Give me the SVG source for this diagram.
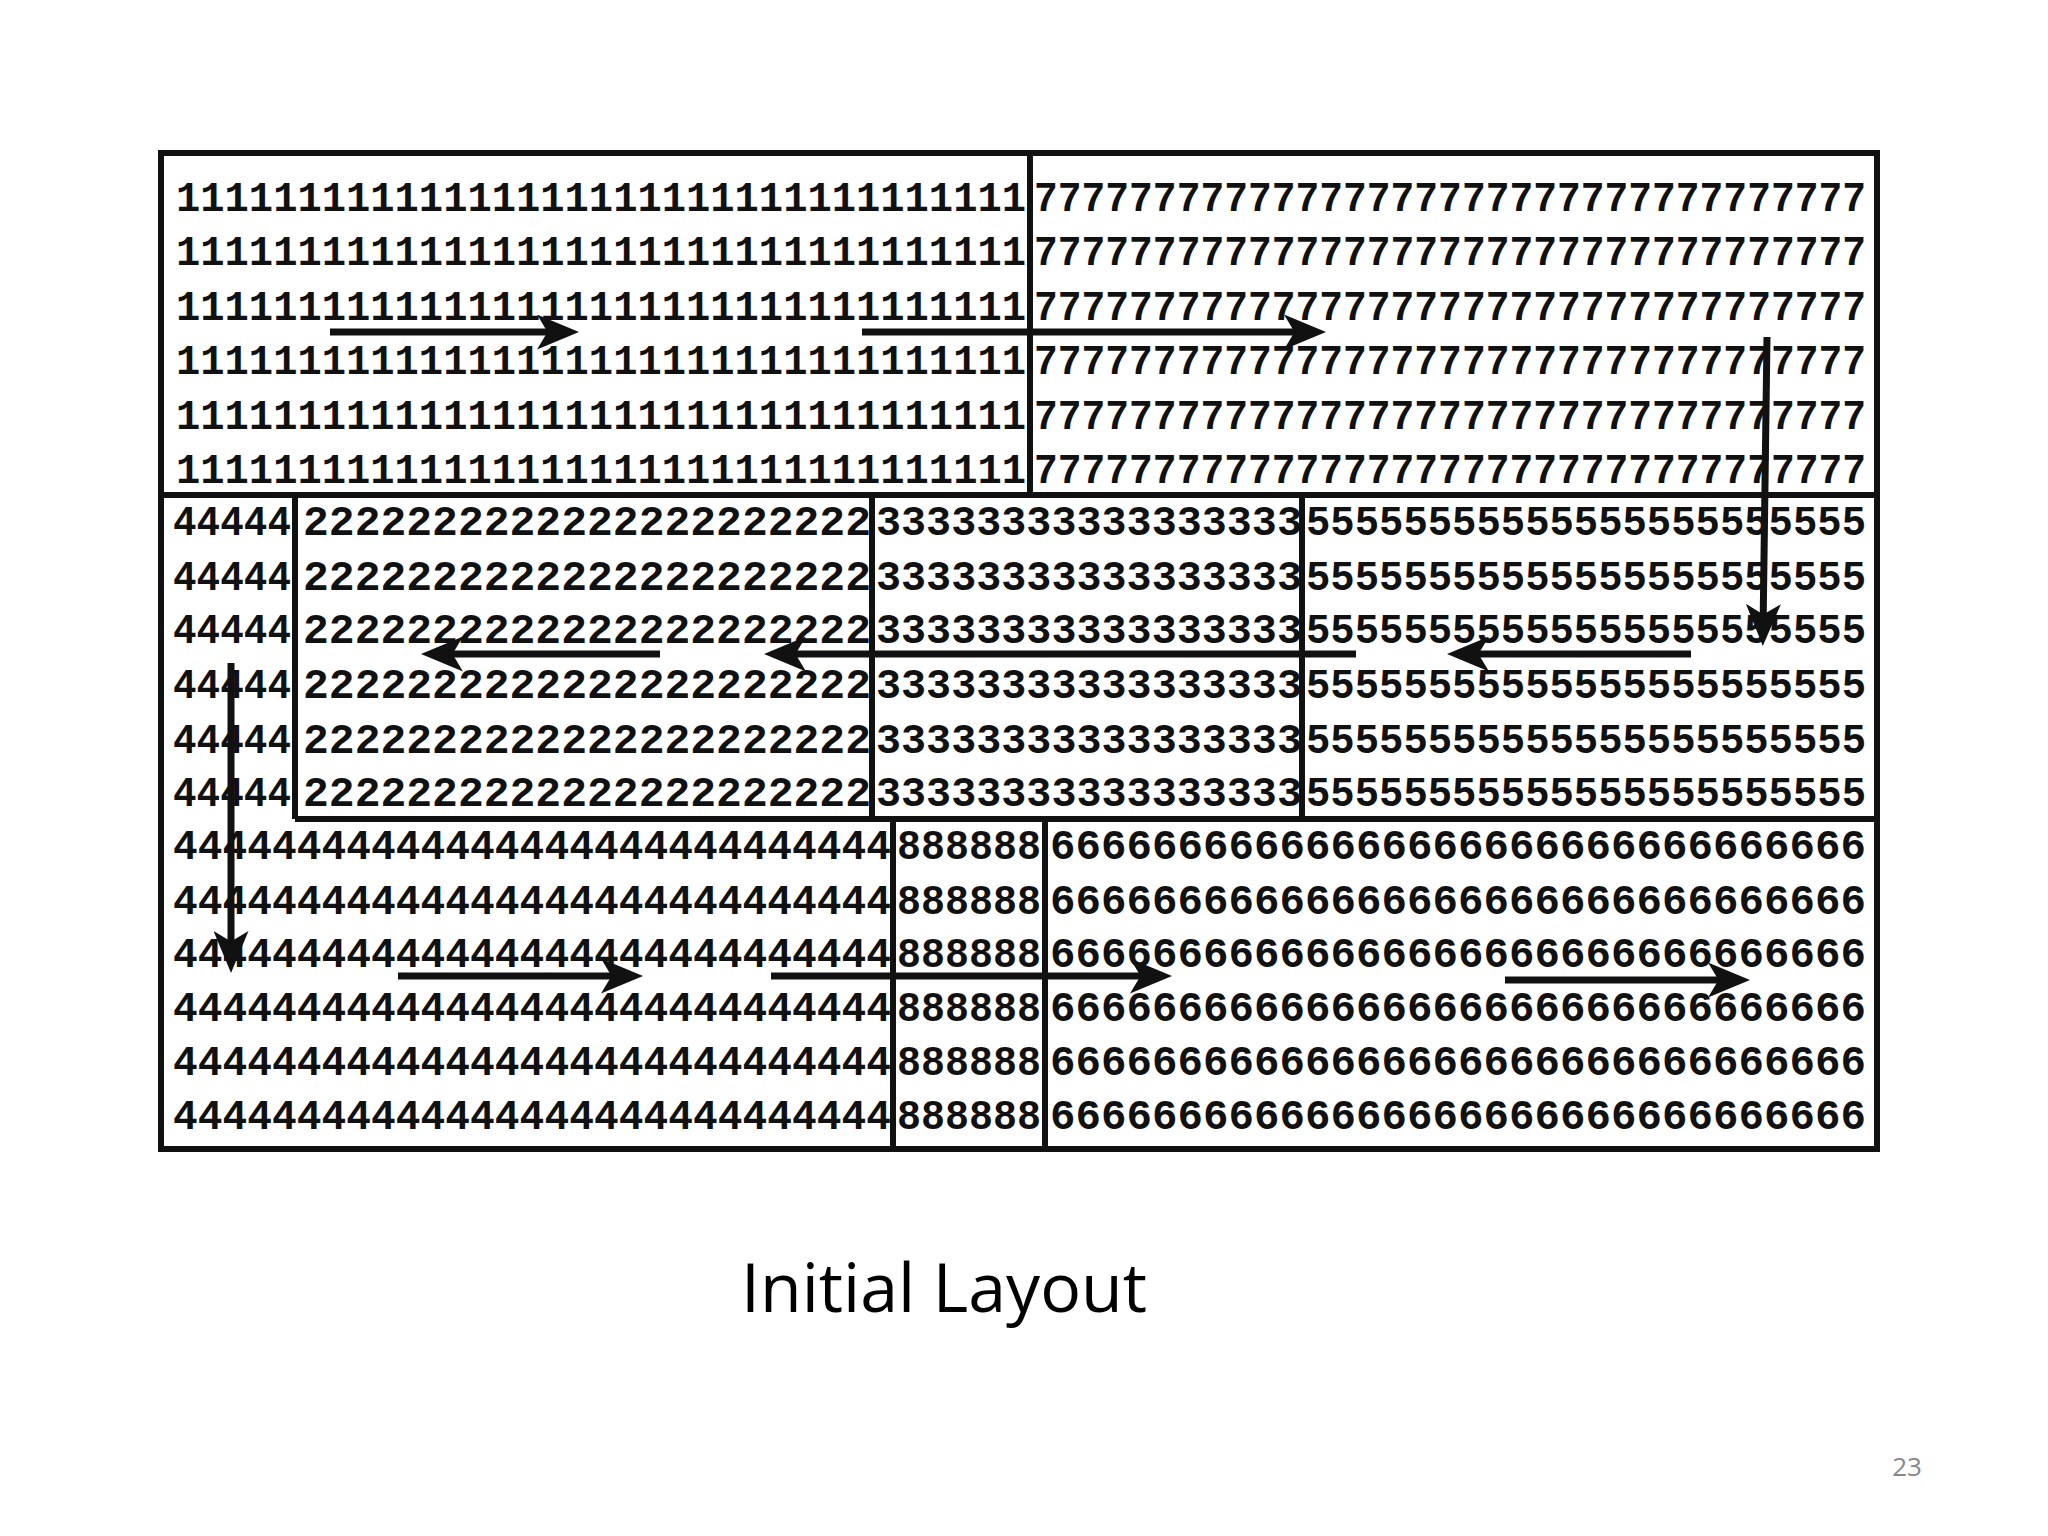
<svg xmlns="http://www.w3.org/2000/svg" width="2048" height="1536" viewBox="0 0 2048 1536">
<style>
.d{font-family:"Liberation Mono",monospace;font-weight:bold;font-size:42px;fill:#111}
.b{fill:none;stroke:#111;stroke-width:6}
.a{stroke:#111;stroke-width:7;fill:none;marker-end:url(#ah)}
</style>
<defs><marker id="ah" markerWidth="6" markerHeight="5" refX="4" refY="2.5" orient="auto" markerUnits="strokeWidth"><path d="M0,0 L6,2.5 L0,5 L1.5,2.5 Z" fill="#111"/></marker></defs>
<rect width="2048" height="1536" fill="#fff"/>
<g id="n1"><g class="d">
<text x="176" y="211" textLength="850" lengthAdjust="spacingAndGlyphs">11111111111111111111111111111111111</text>
<text x="176" y="265" textLength="850" lengthAdjust="spacingAndGlyphs">11111111111111111111111111111111111</text>
<text x="176" y="320" textLength="850" lengthAdjust="spacingAndGlyphs">11111111111111111111111111111111111</text>
<text x="176" y="374" textLength="850" lengthAdjust="spacingAndGlyphs">11111111111111111111111111111111111</text>
<text x="176" y="429" textLength="850" lengthAdjust="spacingAndGlyphs">11111111111111111111111111111111111</text>
<text x="176" y="483" textLength="850" lengthAdjust="spacingAndGlyphs">11111111111111111111111111111111111</text>
</g></g>
<g id="n7"><g class="d">
<text x="1034" y="211" textLength="832" lengthAdjust="spacingAndGlyphs">77777777777777777777777777777777777</text>
<text x="1034" y="265" textLength="832" lengthAdjust="spacingAndGlyphs">77777777777777777777777777777777777</text>
<text x="1034" y="320" textLength="832" lengthAdjust="spacingAndGlyphs">77777777777777777777777777777777777</text>
<text x="1034" y="374" textLength="832" lengthAdjust="spacingAndGlyphs">77777777777777777777777777777777777</text>
<text x="1034" y="429" textLength="832" lengthAdjust="spacingAndGlyphs">77777777777777777777777777777777777</text>
<text x="1034" y="483" textLength="832" lengthAdjust="spacingAndGlyphs">77777777777777777777777777777777777</text>
</g></g>
<g id="n4"><g class="d">
<text x="173" y="535" textLength="118" lengthAdjust="spacingAndGlyphs">44444</text>
<text x="173" y="590" textLength="118" lengthAdjust="spacingAndGlyphs">44444</text>
<text x="173" y="643" textLength="118" lengthAdjust="spacingAndGlyphs">44444</text>
<text x="173" y="698" textLength="118" lengthAdjust="spacingAndGlyphs">44444</text>
<text x="173" y="753" textLength="118" lengthAdjust="spacingAndGlyphs">44444</text>
<text x="173" y="806" textLength="118" lengthAdjust="spacingAndGlyphs">44444</text>
<text x="173" y="859" textLength="718" lengthAdjust="spacingAndGlyphs">44444444444444444444444444444</text>
<text x="173" y="914" textLength="718" lengthAdjust="spacingAndGlyphs">44444444444444444444444444444</text>
<text x="173" y="967" textLength="718" lengthAdjust="spacingAndGlyphs">44444444444444444444444444444</text>
<text x="173" y="1021" textLength="718" lengthAdjust="spacingAndGlyphs">44444444444444444444444444444</text>
<text x="173" y="1075" textLength="718" lengthAdjust="spacingAndGlyphs">44444444444444444444444444444</text>
<text x="173" y="1129" textLength="718" lengthAdjust="spacingAndGlyphs">44444444444444444444444444444</text>
</g></g>
<g id="n2"><g class="d">
<text x="303" y="535" textLength="568" lengthAdjust="spacingAndGlyphs">2222222222222222222222</text>
<text x="303" y="590" textLength="568" lengthAdjust="spacingAndGlyphs">2222222222222222222222</text>
<text x="303" y="643" textLength="568" lengthAdjust="spacingAndGlyphs">2222222222222222222222</text>
<text x="303" y="698" textLength="568" lengthAdjust="spacingAndGlyphs">2222222222222222222222</text>
<text x="303" y="753" textLength="568" lengthAdjust="spacingAndGlyphs">2222222222222222222222</text>
<text x="303" y="806" textLength="568" lengthAdjust="spacingAndGlyphs">2222222222222222222222</text>
</g></g>
<g id="n3"><g class="d">
<text x="876" y="535" textLength="426" lengthAdjust="spacingAndGlyphs">33333333333333333</text>
<text x="876" y="590" textLength="426" lengthAdjust="spacingAndGlyphs">33333333333333333</text>
<text x="876" y="643" textLength="426" lengthAdjust="spacingAndGlyphs">33333333333333333</text>
<text x="876" y="698" textLength="426" lengthAdjust="spacingAndGlyphs">33333333333333333</text>
<text x="876" y="753" textLength="426" lengthAdjust="spacingAndGlyphs">33333333333333333</text>
<text x="876" y="806" textLength="426" lengthAdjust="spacingAndGlyphs">33333333333333333</text>
</g></g>
<g id="n5"><g class="d">
<text x="1306" y="535" textLength="560" lengthAdjust="spacingAndGlyphs">55555555555555555555555</text>
<text x="1306" y="590" textLength="560" lengthAdjust="spacingAndGlyphs">55555555555555555555555</text>
<text x="1306" y="643" textLength="560" lengthAdjust="spacingAndGlyphs">55555555555555555555555</text>
<text x="1306" y="698" textLength="560" lengthAdjust="spacingAndGlyphs">55555555555555555555555</text>
<text x="1306" y="753" textLength="560" lengthAdjust="spacingAndGlyphs">55555555555555555555555</text>
<text x="1306" y="806" textLength="560" lengthAdjust="spacingAndGlyphs">55555555555555555555555</text>
</g></g>
<g id="n8"><g class="d">
<text x="897" y="859" textLength="144" lengthAdjust="spacingAndGlyphs">888888</text>
<text x="897" y="914" textLength="144" lengthAdjust="spacingAndGlyphs">888888</text>
<text x="897" y="967" textLength="144" lengthAdjust="spacingAndGlyphs">888888</text>
<text x="897" y="1021" textLength="144" lengthAdjust="spacingAndGlyphs">888888</text>
<text x="897" y="1075" textLength="144" lengthAdjust="spacingAndGlyphs">888888</text>
<text x="897" y="1129" textLength="144" lengthAdjust="spacingAndGlyphs">888888</text>
</g></g>
<g id="n6"><g class="d">
<text x="1050" y="859" textLength="816" lengthAdjust="spacingAndGlyphs">66666666666666666666666666666666</text>
<text x="1050" y="914" textLength="816" lengthAdjust="spacingAndGlyphs">66666666666666666666666666666666</text>
<text x="1050" y="967" textLength="816" lengthAdjust="spacingAndGlyphs">66666666666666666666666666666666</text>
<text x="1050" y="1021" textLength="816" lengthAdjust="spacingAndGlyphs">66666666666666666666666666666666</text>
<text x="1050" y="1075" textLength="816" lengthAdjust="spacingAndGlyphs">66666666666666666666666666666666</text>
<text x="1050" y="1129" textLength="816" lengthAdjust="spacingAndGlyphs">66666666666666666666666666666666</text>
</g></g>
<g id="borders" class="b">
<rect x="161" y="153" width="1716" height="996"/>
<line x1="161" y1="495" x2="1877" y2="495"/>
<line x1="1030" y1="153" x2="1030" y2="495"/>
<line x1="295" y1="495" x2="295" y2="819"/>
<line x1="295" y1="819" x2="1877" y2="819"/>
<line x1="872" y1="495" x2="872" y2="819"/>
<line x1="1302" y1="495" x2="1302" y2="819"/>
<line x1="893" y1="819" x2="893" y2="1149"/>
<line x1="1045" y1="819" x2="1045" y2="1149"/>
</g>
<g id="connectors">
<line class="a" x1="330" y1="332" x2="565" y2="332"/>
<line class="a" x1="862" y1="332" x2="1312" y2="332"/>
<line class="a" x1="1767" y1="337" x2="1763" y2="632"/>
<line class="a" x1="1691" y1="654" x2="1461" y2="654"/>
<line class="a" x1="1356" y1="654" x2="778" y2="654"/>
<line class="a" x1="660" y1="654" x2="435" y2="654"/>
<line class="a" x1="231" y1="663" x2="231" y2="959"/>
<line class="a" x1="398" y1="976" x2="629" y2="976"/>
<line class="a" x1="771" y1="976" x2="1158" y2="976"/>
<line class="a" x1="1505" y1="980" x2="1736" y2="980"/>
</g>
<text x="944" y="1312" text-anchor="middle" font-family="Open Sans, Liberation Sans, sans-serif" font-size="68" fill="#000">Initial Layout</text>
<text x="1907" y="1476" text-anchor="middle" font-family="Open Sans, Liberation Sans, sans-serif" font-size="26" fill="#888">23</text>
</svg>
